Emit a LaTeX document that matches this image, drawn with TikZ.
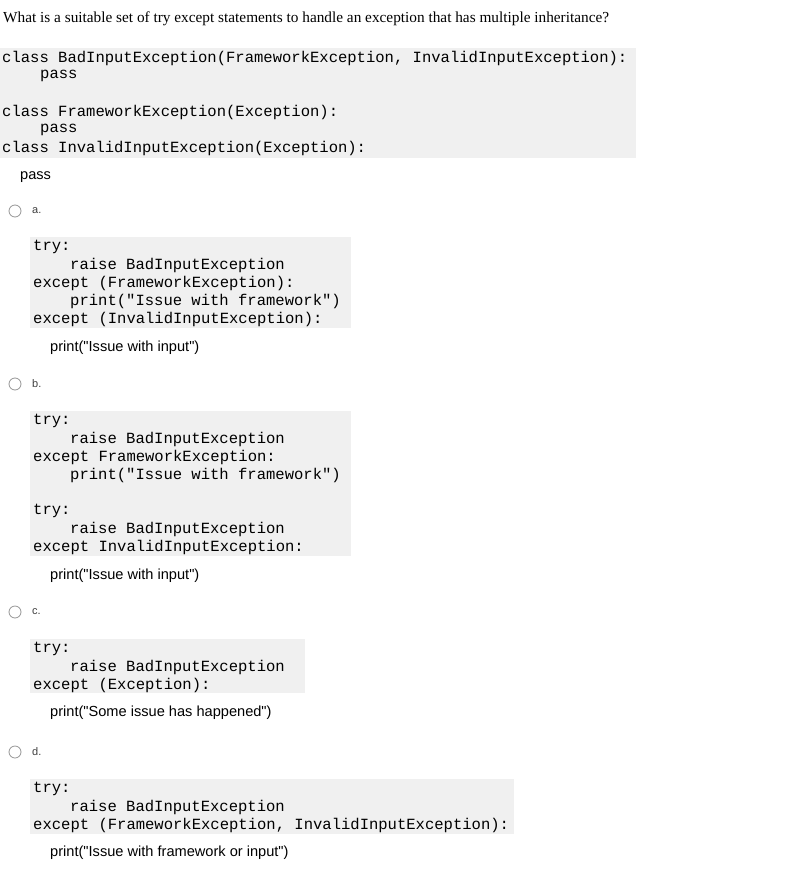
\documentclass[tikz,border=0pt]{standalone}
\usepackage{fontspec}
\newfontfamily\codef{Liberation Mono}
\newfontfamily\arialf{Liberation Sans}
\newfontfamily\timesf{Liberation Serif}
\definecolor{codebg}{RGB}{240,240,240}
\definecolor{radio}{RGB}{150,150,150}
\begin{document}
\begin{tikzpicture}[x=1pt,y=-1pt,
  code/.style={anchor=west,inner sep=0pt,font=\codef\fontsize{15.55}{18}\selectfont,text=black},
  ans/.style={anchor=west,inner sep=0pt,font=\arialf\fontsize{14.6}{16}\selectfont},
  lbl/.style={anchor=west,inner sep=0pt,font=\arialf\fontsize{11}{13}\selectfont,text=black!75},
  bg/.style={fill=codebg,draw=none},
  radiobtn/.style={circle,draw=radio,line width=0.8pt,minimum size=12pt,inner sep=0pt}]
\useasboundingbox (0,0) rectangle (808,875);
\fill[white] (0,0) rectangle (808,875);
\node[anchor=west,inner sep=0pt,font=\timesf\fontsize{15.3}{17}\selectfont] (title) at (3,19) {What is a suitable set of try except statements to handle an exception that has multiple inheritance?};
% class box
\path[bg] (0,48) rectangle (636,158);
\node[code] (c1) at (2,58) {class BadInputException(FrameworkException, InvalidInputException):};
\node[code] (c2) at (40,76) {pass};
\node[code] (c3) at (2,112) {class FrameworkException(Exception):};
\node[code] (c4) at (40,130) {pass};
\node[code] (c5) at (2,148) {class InvalidInputException(Exception):};
\node[ans] (p0) at (20,177) {pass};
% a
\node[radiobtn] (ra) at (15,211) {};
\node[lbl] (la) at (32,211) {a.};
\path[bg] (30,237) rectangle (351,328);
\node[code] (a1) at (33,247) {try:};
\node[code] (a2) at (70,265) {raise BadInputException};
\node[code] (a3) at (33,283) {except (FrameworkException):};
\node[code] (a4) at (70,301) {print("Issue with framework")};
\node[code] (a5) at (33,319) {except (InvalidInputException):};
\node[ans] (a6) at (50,348) {print("Issue with input")};
% b
\node[radiobtn] (rb) at (15,384) {};
\node[lbl] (lb) at (32,384) {b.};
\path[bg] (30,411) rectangle (351,556);
\node[code] (b1) at (33,421) {try:};
\node[code] (b2) at (70,439) {raise BadInputException};
\node[code] (b3) at (33,457) {except FrameworkException:};
\node[code] (b4) at (70,475) {print("Issue with framework")};
\node[code] (b5) at (33,511) {try:};
\node[code] (b6) at (70,529) {raise BadInputException};
\node[code] (b7) at (33,547) {except InvalidInputException:};
\node[ans] (b8) at (50,576) {print("Issue with input")};
% c
\node[radiobtn] (rc) at (15,612) {};
\node[lbl] (lc) at (32,612) {c.};
\path[bg] (30,639) rectangle (305,693);
\node[code] (c6) at (33,649) {try:};
\node[code] (c7) at (70,667) {raise BadInputException};
\node[code] (c8) at (33,685) {except (Exception):};
\node[ans] (c9) at (50,713) {print("Some issue has happened")};
% d
\node[radiobtn] (rd) at (15,752) {};
\node[lbl] (ld) at (32,752) {d.};
\path[bg] (30,779) rectangle (514,834);
\node[code] (d1) at (33,789) {try:};
\node[code] (d2) at (70,807) {raise BadInputException};
\node[code] (d3) at (33,825) {except (FrameworkException, InvalidInputException):};
\node[ans] (d4) at (50,853) {print("Issue with framework or input")};
\end{tikzpicture}
\end{document}
